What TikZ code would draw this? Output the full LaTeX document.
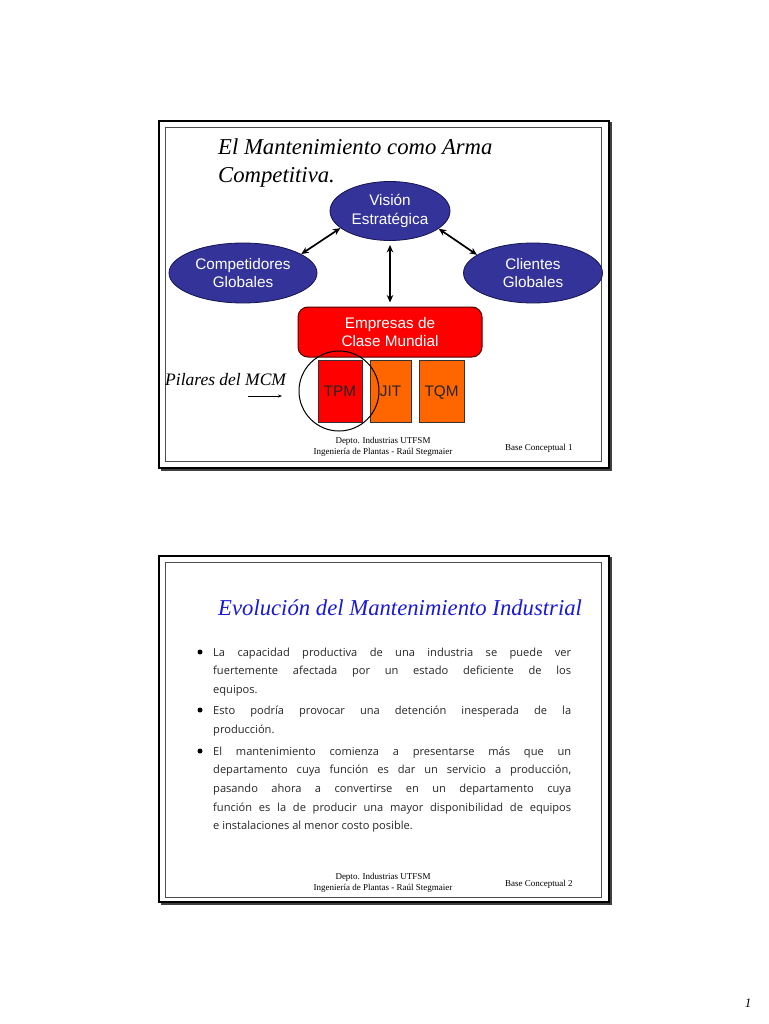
\documentclass[tikz,border=0pt]{standalone}
\usepackage{fontspec}
\setmainfont{Liberation Serif}
\newfontfamily\arialf{Liberation Sans}
\newfontfamily\bodyf{Open Sans}
\usetikzlibrary{shapes.geometric,arrows.meta}
\definecolor{ellblue}{RGB}{51,51,153}
\definecolor{elledge}{RGB}{20,20,80}
\definecolor{boxred}{RGB}{255,0,0}
\definecolor{boxorange}{RGB}{255,102,0}
\definecolor{titleblue}{RGB}{25,25,215}
\begin{document}
\begin{tikzpicture}[x=1pt,y=-1pt,
  frameout/.style={draw=black,line width=1.4pt},
  frameshadow/.style={draw=black!75,line width=2pt},
  framein/.style={draw=black!70,line width=0.8pt},
  bluell/.style={ellipse,draw=elledge,line width=0.8pt,fill=ellblue,inner sep=0pt,text=white,align=center,font=\arialf\fontsize{15.3}{18.5}\selectfont},
  redbox/.style={draw=black!70!red,line width=1pt,fill=boxred,rounded corners=10pt,inner sep=0pt,text=white,align=center,font=\arialf\fontsize{15.3}{17.5}\selectfont},
  pillar/.style={draw=black!80,line width=1pt,inner sep=0pt,text=black!85,text height=11pt,text depth=0pt,font=\arialf\fontsize{15.3}{18}\selectfont},
  dbl/.style={{Stealth[length=7.5pt,width=6.5pt]}-{Stealth[length=7.5pt,width=6.5pt]},line width=1.7pt},
  foot/.style={inner sep=0pt,align=center,font=\fontsize{9}{11}\selectfont},
  bodytxt/.style={inner sep=0pt,anchor=base west,text=black!85,font=\bodyf\fontsize{11.1}{13}\selectfont},
  bulletdot/.style={circle,fill=black,inner sep=0pt,minimum size=5pt}
]
\useasboundingbox[fill=white] (0,0) rectangle (768,1024);

% ---------- Slide 1 ----------
\draw[frameshadow] (161,469.5) -- (610.5,469.5) -- (610.5,122);
\draw[frameout] (159,121) rectangle (609,468);
\draw[framein] (165,127) rectangle (601,461);

\node[inner sep=0pt,anchor=base west,align=left,font=\itshape\fontsize{22.7}{28}\selectfont] (t1) at (218,155) {El Mantenimiento como Arma};
\node[inner sep=0pt,anchor=base west,font=\itshape\fontsize{22.7}{28}\selectfont] (t1b) at (218,183) {Competitiva.};

\node[bluell,minimum width=120pt,minimum height=59pt] (vis) at (390,211) {Visión\\Estratégica};
\node[bluell,minimum width=148pt,minimum height=60pt] (comp) at (243,273) {Competidores\\Globales};
\node[bluell,minimum width=139pt,minimum height=60pt] (cli) at (533,273) {Clientes\\Globales};

\node[redbox,minimum width=184pt,minimum height=50pt] (emp) at (390,332) {Empresas de\\Clase Mundial};

\node[pillar,fill=boxred,minimum width=44pt,minimum height=62pt] (tpm) at (340,391) {TPM};
\node[pillar,fill=boxorange,minimum width=41pt,minimum height=62pt] (jit) at (390.5,391) {JIT};
\node[pillar,fill=boxorange,minimum width=45pt,minimum height=62pt] (tqm) at (441.5,391) {TQM};

\node[circle,draw=black,line width=1pt,minimum size=80pt,inner sep=0pt] (circ) at (339,391) {};

\draw[dbl] (vis.199) -- (comp.18);
\draw[dbl] (vis.340) -- (cli.162);
\draw[dbl,shorten <=4pt,shorten >=4pt] (vis.south) -- (emp.north);

\node[inner sep=0pt,anchor=base west,font=\itshape\fontsize{17.5}{20}\selectfont] (pil) at (165,385) {Pilares del MCM};
\coordinate (pa) at (248,396);
\coordinate (pb) at (282,396);
\draw[-{Stealth[length=4pt,width=3pt]},line width=0.6pt] (pa) -- (pb);

\node[foot] (f1) at (383,446.5) {Depto. Industrias UTFSM\\Ingeniería de Plantas - Raúl Stegmaier};
\node[foot,anchor=west] (b1) at (505,448) {Base Conceptual 1};

% ---------- Slide 2 ----------
\draw[frameshadow] (161,903.5) -- (610.5,903.5) -- (610.5,557);
\draw[frameout] (159,556) rectangle (609,902);
\draw[framein] (165,562) rectangle (601,897);

\node[inner sep=0pt,anchor=base west,text=titleblue,font=\itshape\fontsize{22.7}{28}\selectfont] (t2) at (218,615) {Evolución del Mantenimiento Industrial};

\node[bulletdot] (d1) at (200,652) {};
\node[bulletdot] (d2) at (200,710) {};
\node[bulletdot] (d3) at (200,751) {};

\node[bodytxt] (l1) at (213,656) {\makebox[358pt][s]{La capacidad productiva de una industria se puede ver}};
\node[bodytxt] (l2) at (213,674.5) {\makebox[358pt][s]{fuertemente afectada por un estado deficiente de los}};
\node[bodytxt] (l3) at (213,693) {equipos.};
\node[bodytxt] (l4) at (213,714.5) {\makebox[358pt][s]{Esto podría provocar una detención inesperada de la}};
\node[bodytxt] (l5) at (213,733) {producción.};
\node[bodytxt] (l6) at (213,755) {\makebox[358pt][s]{El mantenimiento comienza a presentarse más que un}};
\node[bodytxt] (l7) at (213,773.5) {\makebox[358pt][s]{departamento cuya función es dar un servicio a producción,}};
\node[bodytxt] (l8) at (213,792) {\makebox[358pt][s]{pasando ahora a convertirse en un departamento cuya}};
\node[bodytxt] (l9) at (213,811) {\makebox[358pt][s]{función es la de producir una mayor disponibilidad de equipos}};
\node[bodytxt] (l10) at (213,829.5) {e instalaciones al menor costo posible.};

\node[foot] (f2) at (383,883) {Depto. Industrias UTFSM\\Ingeniería de Plantas - Raúl Stegmaier};
\node[foot,anchor=west] (b2) at (505,884) {Base Conceptual 2};

\node[inner sep=0pt,font=\itshape\fontsize{13}{15}\selectfont] (pg) at (748,1003) {1};
\end{tikzpicture}
\end{document}
